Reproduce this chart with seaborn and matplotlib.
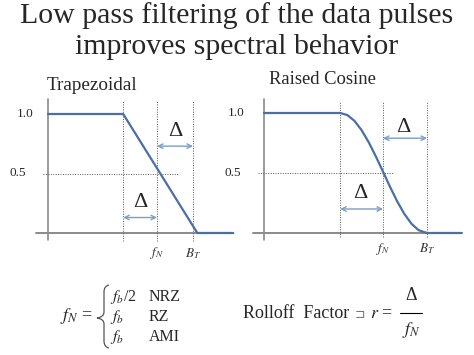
import numpy as np
import pandas as pd
import matplotlib.pyplot as plt
import seaborn as sns
from matplotlib.path import Path
from matplotlib.patches import PathPatch

# frequency axis in units of f_N, amplitude normalised to 1
trap_x = [0.0, 0.69, 1.37, 1.70]
trap_y = [1.0, 1.0, 0.0, 0.0]

rc_x = [0.0, 0.64, 0.70, 0.76, 0.82, 0.88, 0.94, 1.00, 1.06, 1.12,
        1.18, 1.24, 1.30, 1.37, 1.66]
rc_y = [1.0, 1.0, 0.983, 0.935, 0.857, 0.756, 0.638, 0.511, 0.383, 0.262,
        0.158, 0.076, 0.023, 0.0, 0.0]

# marker frequencies: rolloff start, f_N, B_T
trap_marks = [0.69, 1.0, 1.33]
rc_marks = [0.64, 1.0, 1.37]
y_ticks = [1.0, 0.5]
y_tick_labels = ["1.0", "0.5"]

W, H = 474, 355
CURVE = "#4a6fa5"
ARROW = "#7c9dc4"
AXIS = "#8a8a8a"
DOT = "#555555"

sns.set_theme(style="white")
plt.rcParams["font.family"] = ["Liberation Serif", "DejaVu Serif"]
plt.rcParams["mathtext.fontset"] = "stix"

fig = plt.figure(figsize=(W / 100, H / 100), dpi=100)
fig.patch.set_facecolor("white")


def px(x, y):
    return x / W, 1 - y / H


def make_axes(x0, x_scale, y0, y_scale, box):
    """box = (left, top, right, bottom) in pixels."""
    l, t, r, b = box
    ax = fig.add_axes([l / W, 1 - b / H, (r - l) / W, (b - t) / H])
    ax.set_xlim((l - x0) / x_scale, (r - x0) / x_scale)
    ax.set_ylim((y0 - b) / y_scale, (y0 - t) / y_scale)
    ax.axis("off")
    return ax


def draw_panel(ax, xs, ys, marks, spec):
    # axes lines
    ax.plot([0, 0], [spec["ybot"], spec["ytop"]], color=AXIS, lw=1.2)
    ax.plot([spec["xleft"], spec["xright"]], [0, 0], color=AXIS, lw=1.4)
    # dotted guides
    for m in marks:
        ax.plot([m, m], [spec["vbot"], spec["vtop"]], color=DOT, lw=0.7,
                linestyle=(0, (1, 1.5)))
    ax.plot([-0.05, spec["hright"]], [0.5, 0.5], color=DOT, lw=0.7,
            linestyle=(0, (1, 1.5)))
    df = pd.DataFrame({"f": xs, "amp": ys})
    sns.lineplot(data=df, x="f", y="amp", ax=ax, color=CURVE, lw=1.6,
                 sort=False, estimator=None)
    # ticks
    for yv, lab, xp in zip(y_ticks, y_tick_labels, spec["tick_x"]):
        ax.text(xp, yv, lab, fontsize=9.5, ha="center", va="center")
    ax.text(marks[1], spec["lab_y"], r"$f_N$", fontsize=9.5,
            ha="center", va="center", color="#333333")
    ax.text(marks[2], spec["lab_y"], r"$B_T$", fontsize=9.5,
            ha="center", va="center", color="#333333")
    # delta arrows
    arrow = dict(arrowstyle="<->", color=ARROW, lw=1.0,
                 shrinkA=0, shrinkB=0, mutation_scale=8)
    ax.annotate("", xy=(marks[1], spec["top_arrow"]),
                xytext=(marks[2], spec["top_arrow"]), arrowprops=arrow)
    ax.annotate("", xy=(marks[0], spec["bot_arrow"]),
                xytext=(marks[1], spec["bot_arrow"]), arrowprops=arrow)
    ax.text(spec["top_delta"][0], spec["top_delta"][1], "Δ", fontsize=16,
            ha="center", va="center")
    ax.text(spec["bot_delta"][0], spec["bot_delta"][1], "Δ", fontsize=16,
            ha="center", va="center")


ax1 = make_axes(48, 109, 233, 119, (5, 92, 240, 265))
draw_panel(ax1, trap_x, trap_y, trap_marks, dict(
    ybot=-0.06, ytop=1.13, xleft=-0.11, xright=1.70,
    vbot=-0.07, vtop=1.12, hright=1.19,
    tick_x=[-0.21, -0.275], lab_y=-0.17,
    top_arrow=0.73, bot_arrow=0.13,
    top_delta=(1.165, 0.85), bot_delta=(0.845, 0.26)))

ax2 = make_axes(264, 119, 233, 120, (225, 92, 472, 265))
draw_panel(ax2, rc_x, rc_y, rc_marks, dict(
    ybot=-0.06, ytop=1.12, xleft=-0.09, xright=1.66,
    vbot=-0.03, vtop=1.09, hright=1.08,
    tick_x=[-0.23, -0.26], lab_y=-0.13,
    top_arrow=0.79, bot_arrow=0.20,
    top_delta=(1.17, 0.88), bot_delta=(0.81, 0.33)))

# titles
fig.text(*px(237, 16), "Low pass filtering of the data pulses",
         fontsize=21.5, ha="center", va="center")
fig.text(*px(237, 47), "improves spectral behavior",
         fontsize=21.5, ha="center", va="center")
fig.text(*px(92, 86), "Trapezoidal", fontsize=13.8,
         ha="center", va="center")
fig.text(*px(322, 79), "Raised Cosine", fontsize=13.4,
         ha="center", va="center")

# bottom formulas
fig.text(*px(76, 316), r"$f_N$ =", fontsize=13, ha="center", va="center")

# thin curly brace drawn as a path
brace_pts = [(109, 285), (104, 286), (104, 292), (104, 312),
             (104, 317), (97, 318), (104, 319), (104, 324),
             (104, 341), (104, 347), (109, 348)]
codes = [Path.MOVETO, Path.CURVE3, Path.CURVE3, Path.LINETO,
         Path.CURVE3, Path.CURVE3, Path.CURVE3, Path.CURVE3,
         Path.LINETO, Path.CURVE3, Path.CURVE3]
brace = Path([px(x, y) for x, y in brace_pts], codes)
fig.add_artist(PathPatch(brace, transform=fig.transFigure, fill=False,
                         edgecolor="#555555", lw=0.9))

cases = [(r"$f_b$/2", "NRZ", 297), (r"$f_b$", "RZ", 317),
         (r"$f_b$", "AMI", 337)]
for lhs, rhs, yp in cases:
    fig.text(*px(110, yp), lhs, fontsize=11.5, ha="left", va="center")
    fig.text(*px(149, yp), rhs, fontsize=11.5, ha="left", va="center")

fig.text(*px(243, 314), "Rolloff  Factor", fontsize=13,
         ha="left", va="center")
fig.text(*px(360, 314), "⊐", fontsize=9, ha="center",
         va="center", color="#777777", family=["DejaVu Sans"])
fig.text(*px(370, 314), r"$r$ =", fontsize=13, ha="left", va="center")
fig.text(*px(411, 296), "Δ", fontsize=13, ha="center", va="center")
fig.add_artist(plt.Line2D([400 / W, 422 / W], [1 - 313 / H, 1 - 313 / H],
                          color="black", lw=0.8))
fig.text(*px(411, 330), r"$f_N$", fontsize=13, ha="center", va="center")

plt.savefig("out.png", dpi=100)
plt.close()
